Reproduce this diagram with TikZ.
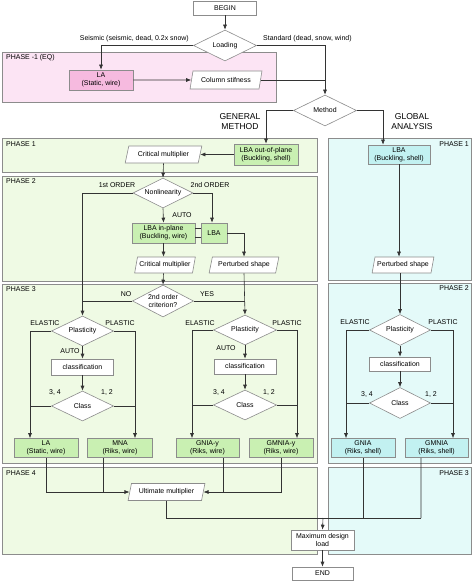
\documentclass[tikz,border=0pt]{standalone}
\usepackage{fontspec}
\setmainfont{Liberation Sans}
\usetikzlibrary{shapes.geometric,arrows.meta,calc}
\definecolor{pinkbg}{HTML}{FCE4F4}
\definecolor{pinkbox}{HTML}{F6BADF}
\definecolor{greenbg}{HTML}{EFFAE4}
\definecolor{greenbox}{HTML}{C9F0B2}
\definecolor{cyanbg}{HTML}{E4FAF9}
\definecolor{cyanbox}{HTML}{C2F1F1}
\definecolor{bordc}{HTML}{8C8C8C}
\definecolor{linec}{HTML}{333333}
\begin{document}
\begin{tikzpicture}[x=1bp,y=-1bp,
  font=\fontsize{7}{8}\selectfont,
  conn/.style={draw=linec, line width=0.6bp},
  arr/.style={conn, -{Latex[length=5bp,width=4bp]}},
  phasebox/.style={draw=bordc, line width=0.8bp},
  box/.style={rectangle, draw=bordc, line width=0.6bp, fill=white, align=center, inner sep=0},
  gbox/.style={box, fill=greenbox},
  cbox/.style={box, fill=cyanbox},
  pbox/.style={box, fill=pinkbox},
  dia/.style={diamond, draw=bordc, line width=0.6bp, fill=white, inner sep=0, aspect=2, align=center},
  para/.style={trapezium, trapezium left angle=72, trapezium right angle=108, trapezium stretches=true, draw=bordc, line width=0.6bp, fill=white, inner sep=1bp},
  lbl/.style={inner sep=0},
  big/.style={inner sep=0, align=center, font=\fontsize{8.6}{10}\selectfont}
]
\path[use as bounding box, fill=white] (0,0) rectangle (474,582);

% phase boxes
\path[phasebox, fill=pinkbg] (2,52) rectangle (276,102);
\path[phasebox, fill=greenbg] (2,138) rectangle (317,172);
\path[phasebox, fill=greenbg] (2,176) rectangle (317,281);
\path[phasebox, fill=greenbg] (2,284) rectangle (317,463);
\path[phasebox, fill=greenbg] (2,467) rectangle (317,554);
\path[phasebox, fill=cyanbg] (328,138) rectangle (471,280);
\path[phasebox, fill=cyanbg] (328,283) rectangle (471,463);
\path[phasebox, fill=cyanbg] (328,467) rectangle (471,554);

\node[lbl, anchor=west] (ph0) at (6,57.5) {PHASE -1 (EQ)};
\node[lbl, anchor=west] (ph1) at (6,144) {PHASE 1};
\node[lbl, anchor=west] (ph2) at (6,181) {PHASE 2};
\node[lbl, anchor=west] (ph3) at (6,289) {PHASE 3};
\node[lbl, anchor=west] (ph4) at (6,473) {PHASE 4};
\node[lbl, anchor=east] (gph1) at (469,144) {PHASE 1};
\node[lbl, anchor=east] (gph2) at (469,288) {PHASE 2};
\node[lbl, anchor=east] (gph3) at (469,473) {PHASE 3};

% top
\node[box, minimum width=63bp, minimum height=14bp] (begin) at (225,8) {BEGIN};
\node[dia, minimum width=63bp, minimum height=31bp] (loading) at (225,45.5) {Loading};
\node[lbl, anchor=east] (seis) at (189,39) {Seismic (seismic, dead, 0.2x snow)};
\node[lbl, anchor=west] (stand) at (263,39) {Standard (dead, snow, wind)};
\node[pbox, minimum width=64bp, minimum height=20bp] (la0) at (101,80) {LA\\(Static, wire)};
\node[para, minimum width=72bp, minimum height=18bp] (colstiff) at (226,80) {Column stifness};
\node[dia, minimum width=63bp, minimum height=31bp] (method) at (325,110.5) {Method};
\node[big] (gm) at (240,122) {GENERAL\\METHOD};
\node[big] (ga) at (412,122) {GLOBAL\\ANALYSIS};

% phase 1
\node[para, minimum width=77bp, minimum height=17bp] (critm1) at (163.5,154.5) {Critical multiplier};
\node[gbox, minimum width=64bp, minimum height=21bp] (lbaop) at (266,154.5) {LBA out-of-plane\\(Buckling, shell)};
\node[cbox, minimum width=62bp, minimum height=19bp] (lbag) at (399,154.5) {LBA\\(Buckling, shell)};

% phase 2
\node[dia, minimum width=60bp, minimum height=30bp] (nonlin) at (163,193) {Nonlinearity};
\node[lbl] (o1) at (117,185) {1st ORDER};
\node[lbl] (o2) at (210,185) {2nd ORDER};
\node[lbl] (auto0) at (182,215) {AUTO};
\node[gbox, minimum width=63bp, minimum height=20bp] (lbaip) at (163.5,233) {LBA in-plane\\(Buckling, wire)};
\node[gbox, minimum width=26bp, minimum height=20bp] (lba2) at (214,233) {LBA};
\node[para, minimum width=61bp, minimum height=16bp] (critm2) at (165,265) {Critical multiplier};
\node[para, minimum width=70bp, minimum height=16bp] (pert) at (244,265) {Perturbed shape};
\node[para, minimum width=62bp, minimum height=16bp] (pertg) at (403,265) {Perturbed shape};

% phase 3 left
\node[dia, minimum width=61bp, minimum height=32bp] (crit2) at (163,301) {2nd order\\criterion?};
\node[lbl] (no) at (126,294) {NO};
\node[lbl] (yes) at (207,294) {YES};

\node[dia, minimum width=62bp, minimum height=30bp] (plas1) at (82.5,331) {Plasticity};
\node[box, minimum width=62bp, minimum height=16bp] (cl1) at (82.5,367) {classification};
\node[dia, minimum width=62bp, minimum height=30bp] (class1) at (82.5,406) {Class};
\node[gbox, minimum width=64bp, minimum height=19bp] (la) at (46,448) {LA\\(Static, wire)};
\node[gbox, minimum width=65bp, minimum height=19bp] (mna) at (120,448) {MNA\\(Riks, wire)};
\node[lbl] (el1) at (45,323) {ELASTIC};
\node[lbl] (pl1) at (120,323) {PLASTIC};
\node[lbl] (au1) at (70,351) {AUTO};
\node[lbl] (c34a) at (55,393) {3, 4};
\node[lbl] (c12a) at (107,393) {1, 2};

\node[dia, minimum width=63bp, minimum height=30bp] (plas2) at (245,330) {Plasticity};
\node[box, minimum width=62bp, minimum height=15bp] (cl2) at (245,366.5) {classification};
\node[dia, minimum width=63bp, minimum height=30bp] (class2) at (245,405) {Class};
\node[gbox, minimum width=63bp, minimum height=19bp] (gniay) at (207.5,448) {GNIA-y\\(Riks, wire)};
\node[gbox, minimum width=64bp, minimum height=19bp] (gmniay) at (281,448) {GMNIA-y\\(Riks, wire)};
\node[lbl] (el2) at (200,323) {ELASTIC};
\node[lbl] (pl2) at (287,323) {PLASTIC};
\node[lbl] (au2) at (226,348) {AUTO};
\node[lbl] (c34b) at (219,393) {3, 4};
\node[lbl] (c12b) at (269,393) {1, 2};

% global phase 2
\node[dia, minimum width=61bp, minimum height=31bp] (plas3) at (400,330) {Plasticity};
\node[box, minimum width=61bp, minimum height=14bp] (cl3) at (400,364) {classification};
\node[dia, minimum width=61bp, minimum height=31bp] (class3) at (400,403) {Class};
\node[cbox, minimum width=64bp, minimum height=19bp] (gnia) at (363,448) {GNIA\\(Riks, shell)};
\node[cbox, minimum width=63bp, minimum height=19bp] (gmnia) at (436.5,448) {GMNIA\\(Riks, shell)};
\node[lbl] (el3) at (355,322) {ELASTIC};
\node[lbl] (pl3) at (443,322) {PLASTIC};
\node[lbl] (c34c) at (367,395) {3, 4};
\node[lbl] (c12c) at (431,395) {1, 2};

% phase 4
\node[para, minimum width=77bp, minimum height=17bp] (ultm) at (166.5,492) {Ultimate multiplier};
\node[box, minimum width=63bp, minimum height=20bp] (mdl) at (322.5,540) {Maximum design\\load};
\node[box, minimum width=61bp, minimum height=13bp] (end) at (322.5,573.5) {END};

% helper coordinates
\coordinate (jr) at (421,518);
\coordinate (jm) at (323,518);
\coordinate (lbagIn) at ([xshift=-16bp]lbag.north);
\coordinate (lba2In) at ([xshift=-2bp]lba2.north);
\coordinate (laIn) at ([xshift=-16bp]la.north);
\coordinate (mnaIn) at ([xshift=15bp]mna.north);
\coordinate (gniayIn) at ([xshift=-15.5bp]gniay.north);
\coordinate (gmniayIn) at ([xshift=16bp]gmniay.north);
\coordinate (gniaIn) at ([xshift=-17bp]gnia.north);
\coordinate (gmniaIn) at ([xshift=16.5bp]gmnia.north);
\coordinate (mnaOut) at ([xshift=-17bp]mna.south);
\coordinate (gniayOut) at ([xshift=15.5bp]gniay.south);
\coordinate (gmniaOut) at ([xshift=-15.5bp]gmnia.south);

% connectors
\draw[arr] (begin) -- (loading);
\draw[arr] (loading.west) -| (la0.north);
\draw[arr] (la0) -- (colstiff);
\draw[arr] (loading.east) -| (method.north);
\draw[conn] (colstiff.east) -- (colstiff.east -| method.north);
\draw[arr] (method.west) -| (lbaop.north);
\draw[arr] (method.east) -| (lbagIn);
\draw[arr] (lbaop) -- (critm1);
\draw[arr] (critm1.south) -- (nonlin.north);
\draw[arr] (nonlin.west) -| (plas1.north);
\draw[arr] (nonlin.east) -| (lba2In);
\draw[arr] (nonlin.south) -- (lbaip.north);
\draw[conn] ([yshift=4.5bp]lbaip.east) -- ([yshift=4.5bp]lba2.west);
\draw[conn] ([yshift=-4.5bp]lbaip.east) -- ([yshift=-4.5bp]lba2.west);
\draw[arr] (lba2.east) -| (pert.north);
\draw[arr] (lbaip.south) -- (lbaip.south |- critm2.north);
\draw[arr] (lbaip.south |- critm2.south) -- (crit2.north);
\draw[conn] (crit2.west) -- (crit2.west -| plas1.north);
\draw[conn] (crit2.east) -- (crit2.east -| plas2.north);
\draw[arr] (pert.south) -- (plas2.north);

\draw[arr] (plas1.west) -| (laIn);
\draw[arr] (plas1.east) -| (mnaIn);
\draw[arr] (plas1) -- (cl1);
\draw[arr] (cl1) -- (class1);
\draw[conn] (class1.west) -- (class1.west -| laIn);
\draw[conn] (class1.east) -- (class1.east -| mnaIn);

\draw[arr] (plas2.west) -| (gniayIn);
\draw[arr] (plas2.east) -| (gmniayIn);
\draw[arr] (plas2) -- (cl2);
\draw[arr] (cl2) -- (class2);
\draw[conn] (class2.west) -- (class2.west -| gniayIn);
\draw[conn] (class2.east) -- (class2.east -| gmniayIn);

\draw[arr] (lbag.south) -- (pertg.north -| lbag.south);
\draw[arr] (pertg.south -| plas3.north) -- (plas3.north);
\draw[arr] (plas3.west) -| (gniaIn);
\draw[arr] (plas3.east) -| (gmniaIn);
\draw[arr] (plas3) -- (cl3);
\draw[arr] (cl3) -- (class3);
\draw[conn] (class3.west) -- (class3.west -| gniaIn);
\draw[conn] (class3.east) -- (class3.east -| gmniaIn);

\draw[arr] (la.south) |- (ultm.west);
\draw[conn] (mnaOut) -- (mnaOut |- ultm.west);
\draw[arr] (gmniay.south) |- (ultm.east);
\draw[conn] (gniayOut) -- (gniayOut |- ultm.east);
\draw[conn] (ultm.south) |- (jr);
\draw[conn] (gmniaOut) -- (jr);
\draw[conn] (gnia.south) -- (gnia.south |- jr);
\draw[arr] (jm) -- (mdl.north);
\draw[arr] (mdl) -- (end);
\end{tikzpicture}
\end{document}
